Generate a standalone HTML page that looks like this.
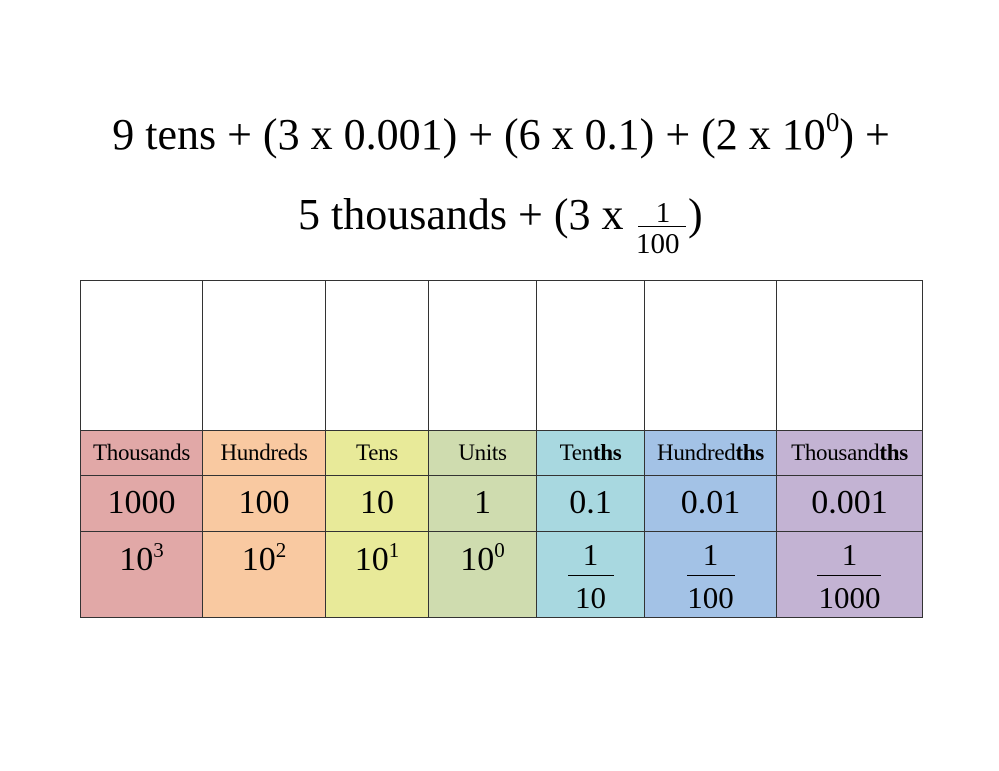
<!DOCTYPE html>
<html><head><style>
body{margin:0;width:999px;height:771px;background:#fff;position:relative;font-family:"Liberation Serif",serif;color:#000;overflow:hidden}
.t{position:absolute;white-space:nowrap}
.c{position:absolute;box-sizing:border-box;border:1px solid #333;text-align:center}
.h{font-size:23px;line-height:44px;letter-spacing:-0.3px}
.v{font-size:34px;line-height:54px}
.p{font-size:34px}
sup{font-size:21px;vertical-align:13px;line-height:0}
.fr{position:absolute;left:0;right:0;text-align:center;font-size:31px;line-height:36px}
.bar{position:absolute;height:1px;background:#000}
</style></head><body>
<div class="t" style="left:0;width:1002px;text-align:center;top:108px;font-size:44px;line-height:54px">9 tens + (3 x 0.001) + (6 x 0.1) + (2 x 10<sup style="font-size:27px;vertical-align:18px">0</sup>) +</div>
<div class="t" style="left:298px;top:188px;font-size:44px;line-height:54px">5 thousands + (3 x</div>
<div class="t" style="left:688px;top:188px;font-size:44px;line-height:54px">)</div>
<div class="t" style="left:640px;top:198px;font-size:29px;line-height:30px;width:46px;text-align:center">1</div>
<div class="bar" style="left:638px;width:48px;top:226px"></div>
<div class="t" style="left:636px;top:229px;font-size:29px;line-height:30px">100</div>

<div class="c" style="left:80px;top:280px;width:123px;height:151px"></div>
<div class="c" style="left:202px;top:280px;width:124px;height:151px"></div>
<div class="c" style="left:325px;top:280px;width:104px;height:151px"></div>
<div class="c" style="left:428px;top:280px;width:109px;height:151px"></div>
<div class="c" style="left:536px;top:280px;width:109px;height:151px"></div>
<div class="c" style="left:644px;top:280px;width:133px;height:151px"></div>
<div class="c" style="left:776px;top:280px;width:147px;height:151px"></div>

<div class="c h" style="left:80px;top:430px;width:123px;height:46px;background:#e1a8a7">Thousands</div>
<div class="c h" style="left:202px;top:430px;width:124px;height:46px;background:#f9c9a1">Hundreds</div>
<div class="c h" style="left:325px;top:430px;width:104px;height:46px;background:#e8ea99">Tens</div>
<div class="c h" style="left:428px;top:430px;width:109px;height:46px;background:#cfdcaf">Units</div>
<div class="c h" style="left:536px;top:430px;width:109px;height:46px;background:#a8d8e0">Ten<b>ths</b></div>
<div class="c h" style="left:644px;top:430px;width:133px;height:46px;background:#a3c2e6">Hundred<b>ths</b></div>
<div class="c h" style="left:776px;top:430px;width:147px;height:46px;background:#c3b3d3">Thousand<b>ths</b></div>

<div class="c v" style="left:80px;top:475px;width:123px;height:57px;background:#e1a8a7">1000</div>
<div class="c v" style="left:202px;top:475px;width:124px;height:57px;background:#f9c9a1">100</div>
<div class="c v" style="left:325px;top:475px;width:104px;height:57px;background:#e8ea99">10</div>
<div class="c v" style="left:428px;top:475px;width:109px;height:57px;background:#cfdcaf">1</div>
<div class="c v" style="left:536px;top:475px;width:109px;height:57px;background:#a8d8e0">0.1</div>
<div class="c v" style="left:644px;top:475px;width:133px;height:57px;background:#a3c2e6">0.01</div>
<div class="c v" style="left:776px;top:475px;width:147px;height:57px;background:#c3b3d3">0.001</div>

<div class="c p" style="left:80px;top:531px;width:123px;height:87px;background:#e1a8a7;line-height:56px">10<sup>3</sup></div>
<div class="c p" style="left:202px;top:531px;width:124px;height:87px;background:#f9c9a1;line-height:56px">10<sup>2</sup></div>
<div class="c p" style="left:325px;top:531px;width:104px;height:87px;background:#e8ea99;line-height:56px">10<sup>1</sup></div>
<div class="c p" style="left:428px;top:531px;width:109px;height:87px;background:#cfdcaf;line-height:56px">10<sup>0</sup></div>
<div class="c" style="left:536px;top:531px;width:109px;height:87px;background:#a8d8e0">
 <div class="fr" style="top:5px">1</div><div class="bar" style="left:31px;width:46px;top:43px"></div><div class="fr" style="top:48px">10</div></div>
<div class="c" style="left:644px;top:531px;width:133px;height:87px;background:#a3c2e6">
 <div class="fr" style="top:5px">1</div><div class="bar" style="left:42px;width:48px;top:43px"></div><div class="fr" style="top:48px">100</div></div>
<div class="c" style="left:776px;top:531px;width:147px;height:87px;background:#c3b3d3">
 <div class="fr" style="top:5px">1</div><div class="bar" style="left:40px;width:64px;top:43px"></div><div class="fr" style="top:48px">1000</div></div>
</body></html>
